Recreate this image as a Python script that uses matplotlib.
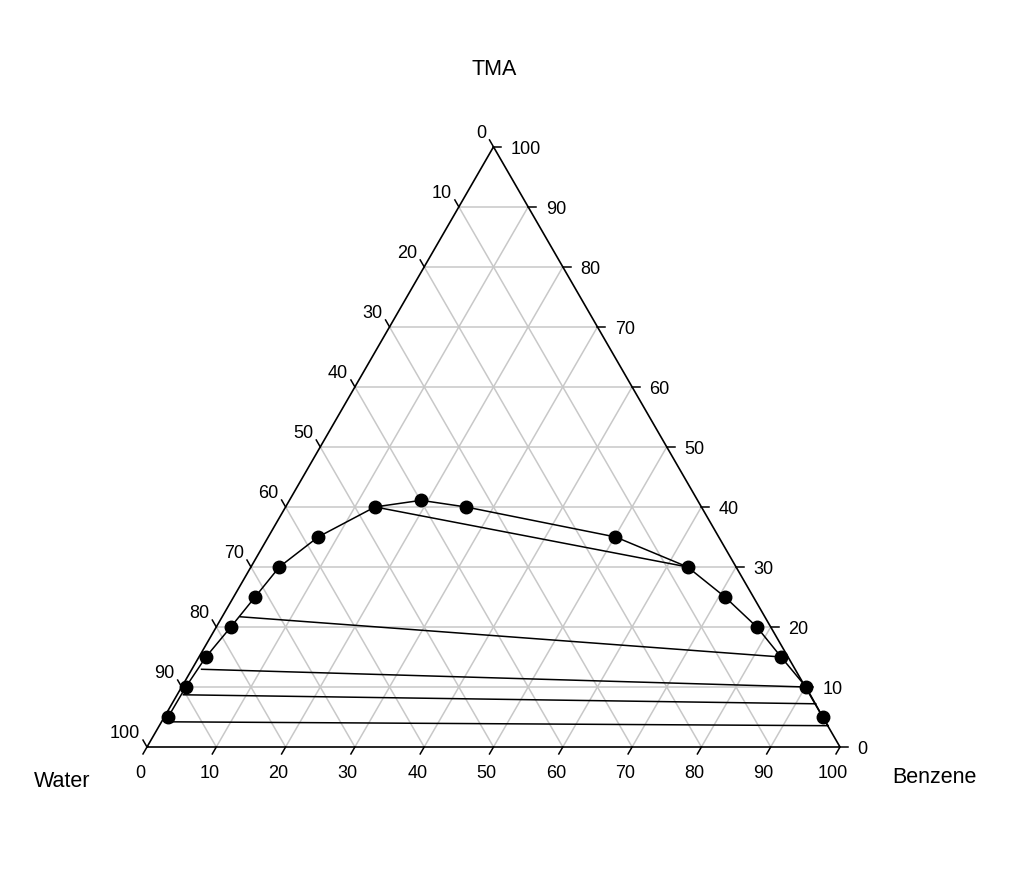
import numpy as np
import matplotlib.pyplot as plt

plt.rcParams['font.family'] = ['Liberation Sans', 'DejaVu Sans']

# binodal points (benzene %, TMA %), water = 100 - benzene - TMA
POINT_BENZENE = [0.55, 0.6, 1.0, 2.1, 3.1, 4.1, 7.2, 12.9, 19.0, 26.0,
                 50.1, 63.0, 70.9, 78.0, 84.0, 90.1, 95.0]
POINT_TMA = [5, 10, 15, 20, 25, 30, 35, 40, 41.1, 40,
             35, 30, 25, 20, 15, 10, 5]

# tie lines, water-rich end -> benzene-rich end
TIE_LEFT_BENZENE = [12.9, 2.6, 1.4, 0.9, 0.5]
TIE_LEFT_TMA = [40, 21.7, 12.95, 8.7, 4.2]
TIE_RIGHT_BENZENE = [63.0, 84.0, 90.1, 92.9, 96.5]
TIE_RIGHT_TMA = [30, 15, 10, 7.2, 3.55]

TICKS = list(range(0, 101, 10))

S = np.sqrt(3) / 2
PX = 6.93  # pixels per unit


def to_xy(b, t):
    b = np.asarray(b, dtype=float)
    t = np.asarray(t, dtype=float)
    return b + t / 2, t * S


fig = plt.figure(figsize=(10.24, 8.94), dpi=100)
ax = fig.add_axes([0, 0, 1, 1])
ax.set_xlim(-147 / PX, (1024 - 147) / PX)
ax.set_ylim((747 - 894) / PX, 747 / PX)
ax.axis('off')

# grid
for v in TICKS[1:-1]:
    # constant TMA
    x, y = to_xy([0, 100 - v], [v, v])
    ax.plot(x, y, color='#c8c8c8', lw=1.1, zorder=1)
    # constant benzene
    x, y = to_xy([v, v], [0, 100 - v])
    ax.plot(x, y, color='#c8c8c8', lw=1.1, zorder=1)
    # constant water
    x, y = to_xy([100 - v, 0], [0, 100 - v])
    ax.plot(x, y, color='#c8c8c8', lw=1.1, zorder=1)

# triangle
x, y = to_xy([0, 100, 0, 0], [0, 0, 100, 0])
ax.plot(x, y, color='black', lw=1.2, zorder=3)

# ticks and labels
tl = 8 / PX
fs = 13
for v in TICKS:
    # bottom: benzene
    x0, y0 = to_xy(v, 0)
    dx, dy = np.cos(np.radians(240)) * tl, np.sin(np.radians(240)) * tl
    ax.plot([x0, x0 + dx], [y0, y0 + dy], color='black', lw=1.1)
    ax.text(x0 - 7 / PX, y0 - 31 / PX, str(v), ha='center', va='baseline', fontsize=fs)
    # left: water
    x0, y0 = to_xy(0, 100 - v)
    dx, dy = np.cos(np.radians(120)) * tl, np.sin(np.radians(120)) * tl
    ax.plot([x0, x0 + dx], [y0, y0 + dy], color='black', lw=1.1)
    ax.text(x0 + dx - 3 / PX, y0 + dy + 2 / PX, str(v), ha='right', va='baseline', fontsize=fs)
    # right: TMA
    x0, y0 = to_xy(100 - v, v)
    ax.plot([x0, x0 + tl], [y0, y0], color='black', lw=1.1)
    ax.text(x0 + 17.5 / PX, y0 - 6.7 / PX, str(v), ha='left', va='baseline', fontsize=fs)

# corner titles
fs2 = 15.5
x0, y0 = to_xy(0, 100)
ax.text(x0 + 1 / PX, y0 + 77 / PX, 'TMA', ha='center', va='center', fontsize=fs2)
x0, y0 = to_xy(0, 0)
ax.text(x0 - 84.5 / PX, y0 - 40 / PX, 'Water', ha='center', va='baseline', fontsize=fs2)
x0, y0 = to_xy(100, 0)
ax.text(x0 + 94.5 / PX, y0 - 36 / PX, 'Benzene', ha='center', va='baseline', fontsize=fs2)

# tie lines
for lb, lt, rb, rt in zip(TIE_LEFT_BENZENE, TIE_LEFT_TMA, TIE_RIGHT_BENZENE, TIE_RIGHT_TMA):
    x, y = to_xy([lb, rb], [lt, rt])
    ax.plot(x, y, color='black', lw=1.1, zorder=4)

# binodal curve, closed by the lowest tie line ends
cb = [TIE_LEFT_BENZENE[-1]] + POINT_BENZENE + [TIE_RIGHT_BENZENE[-1]]
ct = [TIE_LEFT_TMA[-1]] + POINT_TMA + [TIE_RIGHT_TMA[-1]]
x, y = to_xy(cb, ct)
ax.plot(x, y, color='black', lw=1.1, zorder=4)

x, y = to_xy(POINT_BENZENE, POINT_TMA)
ax.plot(x, y, 'o', color='black', ms=9, zorder=5)

fig.savefig('out.png', dpi=100)
